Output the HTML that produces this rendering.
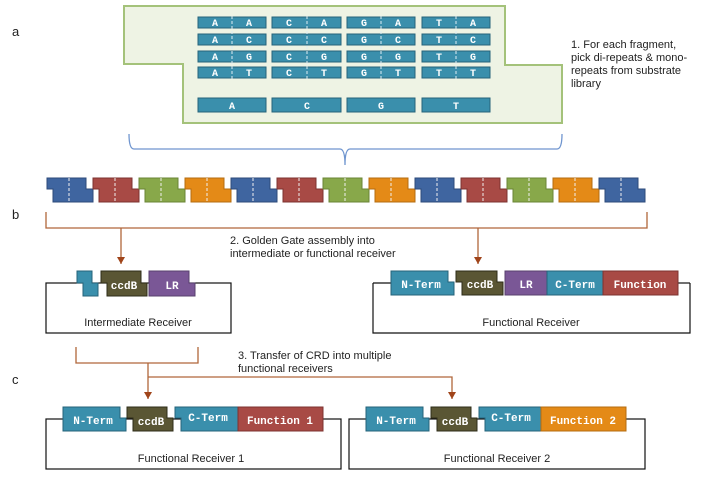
<!DOCTYPE html>
<html><head><meta charset="utf-8"><style>
html,body{margin:0;padding:0;background:#fff}
svg{display:block}
.l{font-family:"Liberation Sans",sans-serif;font-size:11px;fill:#222}
.m{font-family:"Liberation Mono",monospace;font-weight:bold;font-size:10px;fill:#fff;text-anchor:middle}
.t{font-family:"Liberation Mono",monospace;font-weight:bold;font-size:11px;fill:#fff;text-anchor:middle}
</style></head><body>
<svg width="711" height="478" viewBox="0 0 711 478" xmlns="http://www.w3.org/2000/svg">
<defs><marker id="ar" markerWidth="8" markerHeight="8" refX="7" refY="4" orient="auto" markerUnits="userSpaceOnUse"><path d="M0,0 L7,4 L0,8 z" fill="#a0441a"/></marker></defs>
<text x="12" y="36" class="l" style="font-size:13px">a</text>
<text x="12" y="219" class="l" style="font-size:13px">b</text>
<text x="12" y="384" class="l" style="font-size:13px">c</text>
<path d="M124,6 L505,6 L505,65 L562,65 L562,123 L183,123 L183,64 L124,64 Z" fill="#eef3e4" stroke="#a4c27a" stroke-width="2"/>
<g fill="#3a8fac" stroke="#25637a" stroke-width="1">
<rect x="198" y="17" width="68" height="11"/><rect x="272" y="17" width="69" height="11"/><rect x="347" y="17" width="68" height="11"/><rect x="422" y="17" width="68" height="11"/>
<rect x="198" y="34" width="68" height="11"/><rect x="272" y="34" width="69" height="11"/><rect x="347" y="34" width="68" height="11"/><rect x="422" y="34" width="68" height="11"/>
<rect x="198" y="51" width="68" height="11"/><rect x="272" y="51" width="69" height="11"/><rect x="347" y="51" width="68" height="11"/><rect x="422" y="51" width="68" height="11"/>
<rect x="198" y="67" width="68" height="11"/><rect x="272" y="67" width="69" height="11"/><rect x="347" y="67" width="68" height="11"/><rect x="422" y="67" width="68" height="11"/>
<rect x="198" y="98" width="68" height="14"/><rect x="272" y="98" width="69" height="14"/><rect x="347" y="98" width="68" height="14"/><rect x="422" y="98" width="68" height="14"/>
</g>
<g stroke="#dfeef3" stroke-width="1" stroke-dasharray="3,2">
<line x1="232" y1="16" x2="232" y2="80"/><line x1="307" y1="16" x2="307" y2="80"/><line x1="381" y1="16" x2="381" y2="80"/><line x1="456" y1="16" x2="456" y2="80"/>
</g>
<g class="m">
<text x="215" y="26">A</text><text x="249" y="26">A</text><text x="289" y="26">C</text><text x="324" y="26">A</text><text x="364" y="26">G</text><text x="398" y="26">A</text><text x="439" y="26">T</text><text x="473" y="26">A</text>
<text x="215" y="43">A</text><text x="249" y="43">C</text><text x="289" y="43">C</text><text x="324" y="43">C</text><text x="364" y="43">G</text><text x="398" y="43">C</text><text x="439" y="43">T</text><text x="473" y="43">C</text>
<text x="215" y="60">A</text><text x="249" y="60">G</text><text x="289" y="60">C</text><text x="324" y="60">G</text><text x="364" y="60">G</text><text x="398" y="60">G</text><text x="439" y="60">T</text><text x="473" y="60">G</text>
<text x="215" y="76">A</text><text x="249" y="76">T</text><text x="289" y="76">C</text><text x="324" y="76">T</text><text x="364" y="76">G</text><text x="398" y="76">T</text><text x="439" y="76">T</text><text x="473" y="76">T</text>
<text x="232" y="109">A</text><text x="307" y="109">C</text><text x="381" y="109">G</text><text x="456" y="109">T</text>
</g>
<text class="l" x="571" y="48">1. For each fragment,</text>
<text class="l" x="571" y="61">pick di-repeats &amp; mono-</text>
<text class="l" x="571" y="74">repeats from substrate</text>
<text class="l" x="571" y="87">library</text>
<path d="M129,134 Q129,149 134,149 L340,149 Q345,149 345,165 M345,165 Q345,149 350,149 L557,149 Q562,149 562,134" fill="none" stroke="#6f95cf" stroke-width="1.3"/>
<g stroke-width="1">
<path d="M47,178 h39 v11 h7 v13 h-40 v-13 h-6 z" fill="#3f65a0" stroke="#2c4a7a"/>
<path d="M93,178 h39 v11 h7 v13 h-40 v-13 h-6 z" fill="#a84a45" stroke="#7d3330"/>
<path d="M139,178 h39 v11 h7 v13 h-40 v-13 h-6 z" fill="#88a84a" stroke="#6a8536"/>
<path d="M185,178 h39 v11 h7 v13 h-40 v-13 h-6 z" fill="#e48a17" stroke="#b56c10"/>
<path d="M231,178 h39 v11 h7 v13 h-40 v-13 h-6 z" fill="#3f65a0" stroke="#2c4a7a"/>
<path d="M277,178 h39 v11 h7 v13 h-40 v-13 h-6 z" fill="#a84a45" stroke="#7d3330"/>
<path d="M323,178 h39 v11 h7 v13 h-40 v-13 h-6 z" fill="#88a84a" stroke="#6a8536"/>
<path d="M369,178 h39 v11 h7 v13 h-40 v-13 h-6 z" fill="#e48a17" stroke="#b56c10"/>
<path d="M415,178 h39 v11 h7 v13 h-40 v-13 h-6 z" fill="#3f65a0" stroke="#2c4a7a"/>
<path d="M461,178 h39 v11 h7 v13 h-40 v-13 h-6 z" fill="#a84a45" stroke="#7d3330"/>
<path d="M507,178 h39 v11 h7 v13 h-40 v-13 h-6 z" fill="#88a84a" stroke="#6a8536"/>
<path d="M553,178 h39 v11 h7 v13 h-40 v-13 h-6 z" fill="#e48a17" stroke="#b56c10"/>
<path d="M599,178 h39 v11 h7 v13 h-40 v-13 h-6 z" fill="#3f65a0" stroke="#2c4a7a"/>
</g>
<g stroke="#f0f0f0" stroke-dasharray="3,2">
<line x1="69" y1="178" x2="69" y2="202"/><line x1="115" y1="178" x2="115" y2="202"/><line x1="161" y1="178" x2="161" y2="202"/><line x1="207" y1="178" x2="207" y2="202"/><line x1="253" y1="178" x2="253" y2="202"/><line x1="299" y1="178" x2="299" y2="202"/><line x1="345" y1="178" x2="345" y2="202"/><line x1="391" y1="178" x2="391" y2="202"/><line x1="437" y1="178" x2="437" y2="202"/><line x1="483" y1="178" x2="483" y2="202"/><line x1="529" y1="178" x2="529" y2="202"/><line x1="575" y1="178" x2="575" y2="202"/><line x1="621" y1="178" x2="621" y2="202"/>
</g>
<g fill="none" stroke="#b0663a" stroke-width="1.3">
<path d="M46,212 V228 H647 V212"/>
<line x1="121" y1="228" x2="121" y2="264" marker-end="url(#ar)"/>
<line x1="478" y1="228" x2="478" y2="264" marker-end="url(#ar)"/>
<path d="M76,347 V363 H198 V347"/>
<line x1="148" y1="363" x2="148" y2="399" marker-end="url(#ar)"/>
<path d="M148,377 H452 V399" marker-end="url(#ar)"/>
</g>
<text class="l" x="230" y="244">2. Golden Gate assembly into</text>
<text class="l" x="230" y="257">intermediate or functional receiver</text>
<text class="l" x="238" y="359">3. Transfer of CRD into multiple</text>
<text class="l" x="238" y="372">functional receivers</text>
<g fill="none" stroke="#111" stroke-width="1.2">
<rect x="46" y="283" width="185" height="50"/>
<path d="M373,283 V333 H690 V283"/>
<line x1="373" y1="283" x2="392" y2="283"/><line x1="678" y1="283" x2="690" y2="283"/>
<rect x="46" y="419" width="295" height="50"/>
<rect x="349" y="419" width="296" height="50"/>
</g>
<path d="M77,271 h15 v12 h6 v13 h-15 v-13 h-6 z" fill="#3a8fac" stroke="#25637a"/>
<path d="M101,271 h40 v12 h6 v13 h-40 v-13 h-6 z" fill="#5a5634" stroke="#2e2c18"/>
<text class="t" x="124" y="289">ccdB</text>
<path d="M149,271 h40 v12 h6 v13 h-46 z" fill="#7a5796" stroke="#58406e"/>
<text class="t" x="172" y="289">LR</text>
<text class="l" x="138" y="326" text-anchor="middle">Intermediate Receiver</text>
<path d="M391,271 h57 v11 h6 v13 h-63 z" fill="#3a8fac" stroke="#25637a"/>
<text class="t" x="421" y="288">N-Term</text>
<path d="M456,271 h41 v11 h6 v13 h-41 v-13 h-6 z" fill="#5a5634" stroke="#2e2c18"/>
<text class="t" x="480" y="288">ccdB</text>
<path d="M505,271 h42 v24 h-42 z" fill="#7a5796" stroke="#58406e"/>
<text class="t" x="526" y="288">LR</text>
<rect x="547" y="271" width="56" height="24" fill="#3a8fac" stroke="#25637a"/>
<text class="t" x="575" y="288">C-Term</text>
<rect x="603" y="271" width="75" height="24" fill="#a84a45" stroke="#7d3330"/>
<text class="t" x="640" y="288">Function</text>
<text class="l" x="531" y="326" text-anchor="middle">Functional Receiver</text>
<path d="M63,407 h57 v11 h6 v13 h-63 z" fill="#3a8fac" stroke="#25637a"/>
<text class="t" x="93" y="424">N-Term</text>
<path d="M127,407 h40 v11 h6 v13 h-40 v-13 h-6 z" fill="#5a5634" stroke="#2e2c18"/>
<text class="t" x="151" y="425">ccdB</text>
<path d="M175,407 h63 v24 h-57 v-13 h-6 z" fill="#3a8fac" stroke="#25637a"/>
<text class="t" x="208" y="421">C-Term</text>
<rect x="238" y="407" width="85" height="24" fill="#a84a45" stroke="#7d3330"/>
<text class="t" x="280" y="424">Function 1</text>
<text class="l" x="191" y="462" text-anchor="middle">Functional Receiver 1</text>
<path d="M366,407 h57 v11 h6 v13 h-63 z" fill="#3a8fac" stroke="#25637a"/>
<text class="t" x="396" y="424">N-Term</text>
<path d="M431,407 h40 v11 h6 v13 h-40 v-13 h-6 z" fill="#5a5634" stroke="#2e2c18"/>
<text class="t" x="455" y="425">ccdB</text>
<path d="M479,407 h62 v24 h-56 v-13 h-6 z" fill="#3a8fac" stroke="#25637a"/>
<text class="t" x="511" y="421">C-Term</text>
<rect x="541" y="407" width="85" height="24" fill="#e48a17" stroke="#b56c10"/>
<text class="t" x="583" y="424">Function 2</text>
<text class="l" x="497" y="462" text-anchor="middle">Functional Receiver 2</text>
</svg>
</body></html>
